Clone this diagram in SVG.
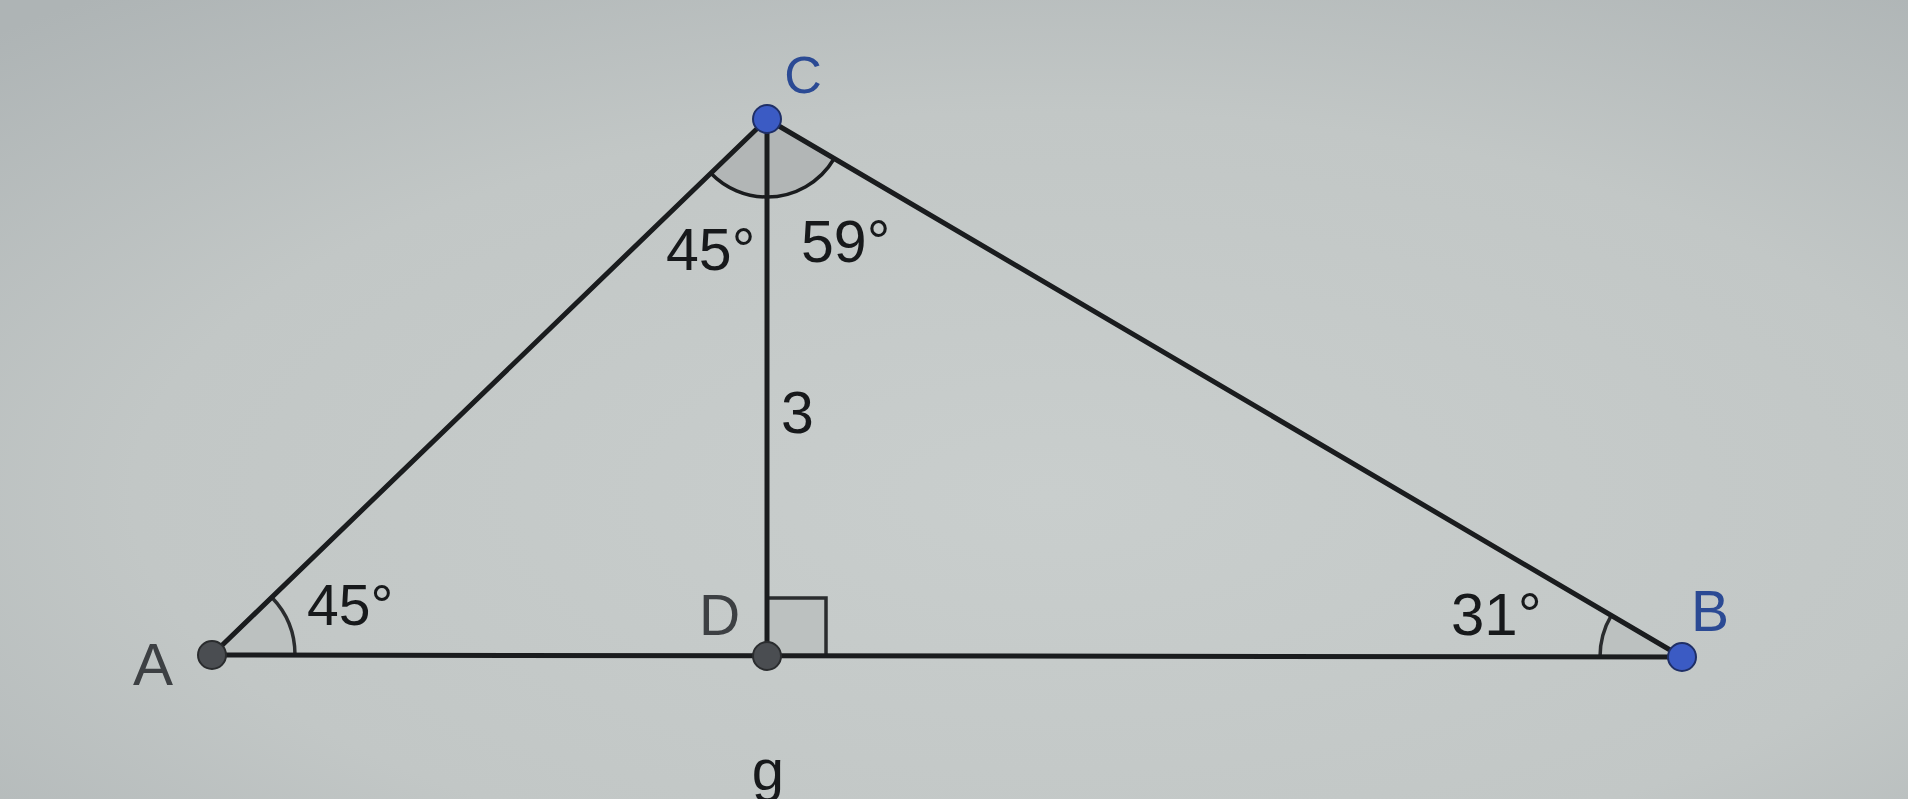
<svg xmlns="http://www.w3.org/2000/svg" width="1908" height="799" viewBox="0 0 1908 799">
<defs>
<radialGradient id="bg" cx="55%" cy="62%" r="80%">
<stop offset="0" stop-color="#c9cecd"/>
<stop offset="0.6" stop-color="#c2c7c6"/>
<stop offset="1" stop-color="#aeb4b5"/>
</radialGradient>
<style>
.edge{stroke:#1a1c1e;stroke-width:5;fill:none;stroke-linecap:round}
.ang{fill:#b2b6b6;stroke:#1a1c1e;stroke-width:3.5}
.angl{fill:#bcc1c0;stroke:#2a2c2e;stroke-width:3.5}
.lbl{font-family:"Liberation Sans",Arial,sans-serif;fill:#17191b}
.gray{fill:#3d4043}
.blue{fill:#2b4a94}
.ptd{fill:#4a4d51;stroke:#2a2c2e;stroke-width:2}
.ptb{fill:#3b5bc4;stroke:#1f2f66;stroke-width:2}
</style>
</defs>
<rect x="0" y="0" width="1908" height="799" fill="url(#bg)"/>
<g id="angles">
<path class="ang" d="M767,119 L710.9,173.2 A78,78 0 0 0 767,197 Z"/>
<path class="ang" d="M767,119 L767,197 A78,78 0 0 0 834.2,158.5 Z"/>
<path class="angl" d="M212,655 L271.7,597.3 A83,83 0 0 1 295,655"/>
<path class="angl" d="M1682,657 L1611.3,615.4 A82,82 0 0 0 1600,657"/>
<rect class="angl" x="767" y="598" width="59" height="58"/>
</g>
<g id="connectors">
<line class="edge" x1="212" y1="655" x2="1682" y2="657"/>
<line class="edge" x1="212" y1="655" x2="767" y2="119"/>
<line class="edge" x1="767" y1="119" x2="1682" y2="657"/>
<line class="edge" x1="767" y1="119" x2="767" y2="656"/>
</g>
<g id="labels">
<text class="lbl" x="666" y="270" font-size="59">45°</text>
<text class="lbl" x="801" y="262" font-size="59">59°</text>
<text class="lbl" x="781" y="433" font-size="59">3</text>
<text class="lbl" x="307" y="625" font-size="57">45°</text>
<text class="lbl" x="1451" y="635" font-size="60">31°</text>
<text class="lbl" x="768" y="790" font-size="58" text-anchor="middle">g</text>
</g>
<g id="node-A">
<circle class="ptd" cx="212" cy="655" r="14"/>
<text class="lbl gray" x="133" y="685" font-size="60">A</text>
</g>
<g id="node-D">
<circle class="ptd" cx="767" cy="656" r="14"/>
<text class="lbl gray" x="699" y="635" font-size="57">D</text>
</g>
<g id="node-C">
<circle class="ptb" cx="767" cy="119" r="14"/>
<text class="lbl blue" x="803" y="93" font-size="52" text-anchor="middle">C</text>
</g>
<g id="node-B">
<circle class="ptb" cx="1682" cy="657" r="14"/>
<text class="lbl blue" x="1691" y="631" font-size="57">B</text>
</g>
</svg>
